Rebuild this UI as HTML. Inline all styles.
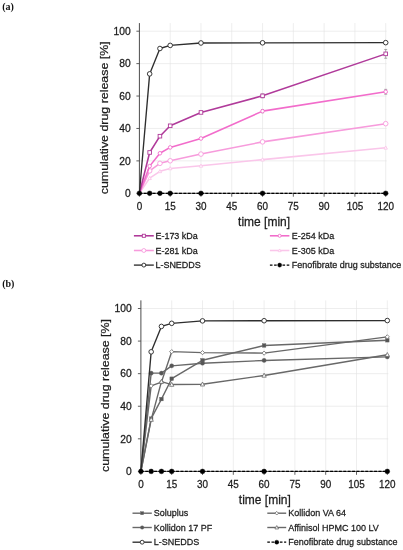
<!DOCTYPE html>
<html lang="en"><head><meta charset="utf-8"><title>Cumulative drug release</title>
<style>
html,body{margin:0;padding:0;background:#fff;}
svg{display:block;}
text{font-family:"Liberation Sans",Arial,sans-serif;fill:#1c1c1c;stroke:#1c1c1c;stroke-width:0.25px;}
.tk{font-size:9.9px;}
.ty{font-size:10.3px;}
.al{font-size:12px;}
.lg{font-size:9px;}
.yl{font-size:11.6px;}
.pl{font-family:"Liberation Serif","Times New Roman",serif;font-weight:bold;font-size:10px;fill:#111;stroke:none;}
</style></head><body>
<svg width="403" height="550" viewBox="0 0 403 550">
<rect width="403" height="550" fill="#fff"/>
<text x="2.2" y="10.2" class="pl">(a)</text>
<text x="2.2" y="286.8" class="pl">(b)</text>
<g id="chart-a">
<line x1="170.19" y1="23.09" x2="170.19" y2="193.3" stroke="#e2e2e2" stroke-width="0.6"/>
<line x1="200.97" y1="23.09" x2="200.97" y2="193.3" stroke="#e2e2e2" stroke-width="0.6"/>
<line x1="231.76" y1="23.09" x2="231.76" y2="193.3" stroke="#e2e2e2" stroke-width="0.6"/>
<line x1="262.55" y1="23.09" x2="262.55" y2="193.3" stroke="#e2e2e2" stroke-width="0.6"/>
<line x1="293.34" y1="23.09" x2="293.34" y2="193.3" stroke="#e2e2e2" stroke-width="0.6"/>
<line x1="324.12" y1="23.09" x2="324.12" y2="193.3" stroke="#e2e2e2" stroke-width="0.6"/>
<line x1="354.91" y1="23.09" x2="354.91" y2="193.3" stroke="#e2e2e2" stroke-width="0.6"/>
<line x1="385.7" y1="23.09" x2="385.7" y2="193.3" stroke="#e2e2e2" stroke-width="0.6"/>
<line x1="139.4" y1="160.88" x2="386.7" y2="160.88" stroke="#e2e2e2" stroke-width="0.6"/>
<line x1="139.4" y1="128.46" x2="386.7" y2="128.46" stroke="#e2e2e2" stroke-width="0.6"/>
<line x1="139.4" y1="96.04" x2="386.7" y2="96.04" stroke="#e2e2e2" stroke-width="0.6"/>
<line x1="139.4" y1="63.62" x2="386.7" y2="63.62" stroke="#e2e2e2" stroke-width="0.6"/>
<line x1="139.4" y1="31.2" x2="386.7" y2="31.2" stroke="#e2e2e2" stroke-width="0.6"/>
<line x1="139.4" y1="23.09" x2="139.4" y2="193.3" stroke="#4d4d4d" stroke-width="1"/>
<line x1="139.4" y1="193.3" x2="385.7" y2="193.3" stroke="#4d4d4d" stroke-width="1"/>
<line x1="139.4" y1="193.3" x2="139.4" y2="196.7" stroke="#4d4d4d" stroke-width="0.9"/>
<text transform="translate(139.4,209.6) scale(1,1.066)" text-anchor="middle" class="tk">0</text>
<line x1="170.19" y1="193.3" x2="170.19" y2="196.7" stroke="#4d4d4d" stroke-width="0.9"/>
<text transform="translate(170.19,209.6) scale(1,1.066)" text-anchor="middle" class="tk">15</text>
<line x1="200.97" y1="193.3" x2="200.97" y2="196.7" stroke="#4d4d4d" stroke-width="0.9"/>
<text transform="translate(200.97,209.6) scale(1,1.066)" text-anchor="middle" class="tk">30</text>
<line x1="231.76" y1="193.3" x2="231.76" y2="196.7" stroke="#4d4d4d" stroke-width="0.9"/>
<text transform="translate(231.76,209.6) scale(1,1.066)" text-anchor="middle" class="tk">45</text>
<line x1="262.55" y1="193.3" x2="262.55" y2="196.7" stroke="#4d4d4d" stroke-width="0.9"/>
<text transform="translate(262.55,209.6) scale(1,1.066)" text-anchor="middle" class="tk">60</text>
<line x1="293.34" y1="193.3" x2="293.34" y2="196.7" stroke="#4d4d4d" stroke-width="0.9"/>
<text transform="translate(293.34,209.6) scale(1,1.066)" text-anchor="middle" class="tk">75</text>
<line x1="324.12" y1="193.3" x2="324.12" y2="196.7" stroke="#4d4d4d" stroke-width="0.9"/>
<text transform="translate(324.12,209.6) scale(1,1.066)" text-anchor="middle" class="tk">90</text>
<line x1="354.91" y1="193.3" x2="354.91" y2="196.7" stroke="#4d4d4d" stroke-width="0.9"/>
<text transform="translate(354.91,209.6) scale(1,1.066)" text-anchor="middle" class="tk">105</text>
<line x1="385.7" y1="193.3" x2="385.7" y2="196.7" stroke="#4d4d4d" stroke-width="0.9"/>
<text transform="translate(385.7,209.6) scale(1,1.066)" text-anchor="middle" class="tk">120</text>
<line x1="136.4" y1="193.3" x2="139.4" y2="193.3" stroke="#4d4d4d" stroke-width="0.9"/>
<text transform="translate(130.7,197.1) scale(1,1.03)" text-anchor="end" class="tk ty">0</text>
<line x1="136.4" y1="160.88" x2="139.4" y2="160.88" stroke="#4d4d4d" stroke-width="0.9"/>
<text transform="translate(130.7,164.68) scale(1,1.03)" text-anchor="end" class="tk ty">20</text>
<line x1="136.4" y1="128.46" x2="139.4" y2="128.46" stroke="#4d4d4d" stroke-width="0.9"/>
<text transform="translate(130.7,132.26) scale(1,1.03)" text-anchor="end" class="tk ty">40</text>
<line x1="136.4" y1="96.04" x2="139.4" y2="96.04" stroke="#4d4d4d" stroke-width="0.9"/>
<text transform="translate(130.7,99.84) scale(1,1.03)" text-anchor="end" class="tk ty">60</text>
<line x1="136.4" y1="63.62" x2="139.4" y2="63.62" stroke="#4d4d4d" stroke-width="0.9"/>
<text transform="translate(130.7,67.42) scale(1,1.03)" text-anchor="end" class="tk ty">80</text>
<line x1="136.4" y1="31.2" x2="139.4" y2="31.2" stroke="#4d4d4d" stroke-width="0.9"/>
<text transform="translate(130.7,35) scale(1,1.03)" text-anchor="end" class="tk ty">100</text>
<text transform="translate(264.05,226.3) scale(1,1.035)" text-anchor="middle" class="al">time [min]</text>
<text transform="translate(107.9,117.8) scale(1,1.07) rotate(-90)" text-anchor="middle" class="al yl">cumulative drug release [%]</text>
<polyline points="139.4,193.3 149.66,178.18 159.93,171.34 170.19,168.4 200.97,165.81 262.55,159.62 385.7,147.75" fill="none" stroke="#fac6ea" stroke-width="1.55" stroke-linejoin="round"/>
<path d="M149.66 176.39L151.36 179.54H147.96Z" fill="#fff" stroke="#fac6ea" stroke-width="0.9" stroke-linejoin="round"/>
<path d="M159.93 169.55L161.62 172.7H158.23Z" fill="#fff" stroke="#fac6ea" stroke-width="0.9" stroke-linejoin="round"/>
<path d="M170.19 166.62L171.89 169.76H168.49Z" fill="#fff" stroke="#fac6ea" stroke-width="0.9" stroke-linejoin="round"/>
<path d="M200.97 164.02L202.67 167.17H199.28Z" fill="#fff" stroke="#fac6ea" stroke-width="0.9" stroke-linejoin="round"/>
<path d="M262.55 157.83L264.25 160.98H260.85Z" fill="#fff" stroke="#fac6ea" stroke-width="0.9" stroke-linejoin="round"/>
<path d="M385.7 145.96L387.4 149.11H384Z" fill="#fff" stroke="#fac6ea" stroke-width="0.9" stroke-linejoin="round"/>
<polyline points="139.4,193.3 149.66,170.85 159.93,163.36 170.19,160.77 200.97,154.09 262.55,141.88 385.7,123.66" fill="none" stroke="#f79bdc" stroke-width="1.55" stroke-linejoin="round"/>
<circle cx="149.66" cy="170.85" r="2.3" fill="#fff" stroke="#f79bdc" stroke-width="0.9"/>
<circle cx="159.93" cy="163.36" r="2.3" fill="#fff" stroke="#f79bdc" stroke-width="0.9"/>
<circle cx="170.19" cy="160.77" r="2.3" fill="#fff" stroke="#f79bdc" stroke-width="0.9"/>
<circle cx="200.97" cy="154.09" r="2.3" fill="#fff" stroke="#f79bdc" stroke-width="0.9"/>
<circle cx="262.55" cy="141.88" r="2.3" fill="#fff" stroke="#f79bdc" stroke-width="0.9"/>
<circle cx="385.7" cy="123.66" r="2.3" fill="#fff" stroke="#f79bdc" stroke-width="0.9"/>
<polyline points="139.4,193.3 149.66,166.13 159.93,153.28 170.19,147.43 200.97,138.48 262.55,111.13 385.7,91.78" fill="none" stroke="#f26ccb" stroke-width="1.55" stroke-linejoin="round"/>
<circle cx="149.66" cy="166.13" r="1.8" fill="#fff" stroke="#f26ccb" stroke-width="0.9"/>
<circle cx="159.93" cy="153.28" r="1.8" fill="#fff" stroke="#f26ccb" stroke-width="0.9"/>
<circle cx="170.19" cy="147.43" r="1.8" fill="#fff" stroke="#f26ccb" stroke-width="0.9"/>
<circle cx="200.97" cy="138.48" r="1.8" fill="#fff" stroke="#f26ccb" stroke-width="0.9"/>
<path d="M262.55 109.51V112.75M261.05 109.51h3M261.05 112.75h3" stroke="#8a8a8a" stroke-width="0.7" fill="none"/>
<circle cx="262.55" cy="111.13" r="1.8" fill="#fff" stroke="#f26ccb" stroke-width="0.9"/>
<path d="M385.7 89.35V94.21M384.2 89.35h3M384.2 94.21h3" stroke="#8a8a8a" stroke-width="0.7" fill="none"/>
<circle cx="385.7" cy="91.78" r="1.8" fill="#fff" stroke="#f26ccb" stroke-width="0.9"/>
<polyline points="139.4,193.3 149.66,152.47 159.93,136.19 170.19,125.79 200.97,112.44 262.55,95.85 385.7,53.86" fill="none" stroke="#b03a9a" stroke-width="1.55" stroke-linejoin="round"/>
<rect x="147.86" y="150.67" width="3.6" height="3.6" fill="#fff" stroke="#b03a9a" stroke-width="0.9"/>
<rect x="158.12" y="134.39" width="3.6" height="3.6" fill="#fff" stroke="#b03a9a" stroke-width="0.9"/>
<rect x="168.39" y="123.99" width="3.6" height="3.6" fill="#fff" stroke="#b03a9a" stroke-width="0.9"/>
<rect x="199.17" y="110.64" width="3.6" height="3.6" fill="#fff" stroke="#b03a9a" stroke-width="0.9"/>
<path d="M262.55 93.9V97.79M261.05 93.9h3M261.05 97.79h3" stroke="#8a8a8a" stroke-width="0.7" fill="none"/>
<rect x="260.75" y="94.05" width="3.6" height="3.6" fill="#fff" stroke="#b03a9a" stroke-width="0.9"/>
<path d="M385.7 49.48V58.24M384.2 49.48h3M384.2 58.24h3" stroke="#8a8a8a" stroke-width="0.7" fill="none"/>
<rect x="383.9" y="52.06" width="3.6" height="3.6" fill="#fff" stroke="#b03a9a" stroke-width="0.9"/>
<polyline points="139.4,193.3 149.66,73.88 159.93,48.5 170.19,45.4 200.97,42.97 262.55,42.81 385.7,42.64" fill="none" stroke="#2e2e2e" stroke-width="1.35" stroke-linejoin="round"/>
<circle cx="149.66" cy="73.88" r="2.3" fill="#fff" stroke="#2e2e2e" stroke-width="0.95"/>
<circle cx="159.93" cy="48.5" r="2.3" fill="#fff" stroke="#2e2e2e" stroke-width="0.95"/>
<circle cx="170.19" cy="45.4" r="2.3" fill="#fff" stroke="#2e2e2e" stroke-width="0.95"/>
<circle cx="200.97" cy="42.97" r="2.3" fill="#fff" stroke="#2e2e2e" stroke-width="0.95"/>
<circle cx="262.55" cy="42.81" r="2.3" fill="#fff" stroke="#2e2e2e" stroke-width="0.95"/>
<circle cx="385.7" cy="42.64" r="2.3" fill="#fff" stroke="#2e2e2e" stroke-width="0.95"/>
<polyline points="139.4,193.3 149.66,193.3 159.93,193.3 170.19,193.3 200.97,193.3 262.55,193.3 385.7,193.3" fill="none" stroke="#000" stroke-width="1.2" stroke-dasharray="2.9 1.5" stroke-linejoin="round"/>
<circle cx="139.4" cy="193.3" r="2.4" fill="#000" stroke="#000" stroke-width="0.4"/>
<circle cx="149.66" cy="193.3" r="2.4" fill="#000" stroke="#000" stroke-width="0.4"/>
<circle cx="159.93" cy="193.3" r="2.4" fill="#000" stroke="#000" stroke-width="0.4"/>
<circle cx="170.19" cy="193.3" r="2.4" fill="#000" stroke="#000" stroke-width="0.4"/>
<circle cx="200.97" cy="193.3" r="2.4" fill="#000" stroke="#000" stroke-width="0.4"/>
<circle cx="262.55" cy="193.3" r="2.4" fill="#000" stroke="#000" stroke-width="0.4"/>
<circle cx="385.7" cy="193.3" r="2.4" fill="#000" stroke="#000" stroke-width="0.4"/>
<line x1="133.9" y1="235.8" x2="153.8" y2="235.8" stroke="#b03a9a" stroke-width="1.55"/>
<rect x="142.32" y="234.27" width="3.06" height="3.06" fill="#fff" stroke="#b03a9a" stroke-width="0.9"/>
<text transform="translate(155.4,239) scale(1,1.035)" text-anchor="start" class="lg">E-173 kDa</text>
<line x1="133.9" y1="250.5" x2="153.8" y2="250.5" stroke="#f79bdc" stroke-width="1.55"/>
<circle cx="143.85" cy="250.5" r="1.95" fill="#fff" stroke="#f79bdc" stroke-width="0.9"/>
<text transform="translate(155.4,253.7) scale(1,1.035)" text-anchor="start" class="lg">E-281 kDa</text>
<line x1="133.9" y1="265.1" x2="153.8" y2="265.1" stroke="#2e2e2e" stroke-width="1.35"/>
<circle cx="143.85" cy="265.1" r="1.95" fill="#fff" stroke="#2e2e2e" stroke-width="0.95"/>
<text transform="translate(155.4,268.3) scale(1,1.035)" text-anchor="start" class="lg">L-SNEDDS</text>
<line x1="269.9" y1="235.8" x2="289.4" y2="235.8" stroke="#f26ccb" stroke-width="1.55"/>
<circle cx="279.65" cy="235.8" r="1.53" fill="#fff" stroke="#f26ccb" stroke-width="0.9"/>
<text transform="translate(291.8,239) scale(1,1.035)" text-anchor="start" class="lg">E-254 kDa</text>
<line x1="269.9" y1="250.5" x2="289.4" y2="250.5" stroke="#fac6ea" stroke-width="1.55"/>
<path d="M279.65 248.98L281.09 251.66H278.2Z" fill="#fff" stroke="#fac6ea" stroke-width="0.9" stroke-linejoin="round"/>
<text transform="translate(291.8,253.7) scale(1,1.035)" text-anchor="start" class="lg">E-305 kDa</text>
<line x1="269.9" y1="265.1" x2="289.4" y2="265.1" stroke="#000" stroke-width="1.2" stroke-dasharray="2.6 1.6"/>
<circle cx="279.65" cy="265.1" r="2.04" fill="#000" stroke="#000" stroke-width="0.4"/>
<text transform="translate(291.8,268.3) scale(1,1.035)" text-anchor="start" class="lg">Fenofibrate drug substance</text>
</g>
<g id="chart-b">
<line x1="171.7" y1="300.36" x2="171.7" y2="471.4" stroke="#e2e2e2" stroke-width="0.6"/>
<line x1="202.5" y1="300.36" x2="202.5" y2="471.4" stroke="#e2e2e2" stroke-width="0.6"/>
<line x1="233.3" y1="300.36" x2="233.3" y2="471.4" stroke="#e2e2e2" stroke-width="0.6"/>
<line x1="264.1" y1="300.36" x2="264.1" y2="471.4" stroke="#e2e2e2" stroke-width="0.6"/>
<line x1="294.9" y1="300.36" x2="294.9" y2="471.4" stroke="#e2e2e2" stroke-width="0.6"/>
<line x1="325.7" y1="300.36" x2="325.7" y2="471.4" stroke="#e2e2e2" stroke-width="0.6"/>
<line x1="356.5" y1="300.36" x2="356.5" y2="471.4" stroke="#e2e2e2" stroke-width="0.6"/>
<line x1="387.3" y1="300.36" x2="387.3" y2="471.4" stroke="#e2e2e2" stroke-width="0.6"/>
<line x1="140.9" y1="438.82" x2="388.3" y2="438.82" stroke="#e2e2e2" stroke-width="0.6"/>
<line x1="140.9" y1="406.24" x2="388.3" y2="406.24" stroke="#e2e2e2" stroke-width="0.6"/>
<line x1="140.9" y1="373.66" x2="388.3" y2="373.66" stroke="#e2e2e2" stroke-width="0.6"/>
<line x1="140.9" y1="341.08" x2="388.3" y2="341.08" stroke="#e2e2e2" stroke-width="0.6"/>
<line x1="140.9" y1="308.5" x2="388.3" y2="308.5" stroke="#e2e2e2" stroke-width="0.6"/>
<line x1="140.9" y1="300.36" x2="140.9" y2="471.4" stroke="#4d4d4d" stroke-width="1"/>
<line x1="140.9" y1="471.4" x2="387.3" y2="471.4" stroke="#4d4d4d" stroke-width="1"/>
<line x1="140.9" y1="471.4" x2="140.9" y2="474.8" stroke="#4d4d4d" stroke-width="0.9"/>
<text transform="translate(140.9,487.7) scale(1,1.066)" text-anchor="middle" class="tk">0</text>
<line x1="171.7" y1="471.4" x2="171.7" y2="474.8" stroke="#4d4d4d" stroke-width="0.9"/>
<text transform="translate(171.7,487.7) scale(1,1.066)" text-anchor="middle" class="tk">15</text>
<line x1="202.5" y1="471.4" x2="202.5" y2="474.8" stroke="#4d4d4d" stroke-width="0.9"/>
<text transform="translate(202.5,487.7) scale(1,1.066)" text-anchor="middle" class="tk">30</text>
<line x1="233.3" y1="471.4" x2="233.3" y2="474.8" stroke="#4d4d4d" stroke-width="0.9"/>
<text transform="translate(233.3,487.7) scale(1,1.066)" text-anchor="middle" class="tk">45</text>
<line x1="264.1" y1="471.4" x2="264.1" y2="474.8" stroke="#4d4d4d" stroke-width="0.9"/>
<text transform="translate(264.1,487.7) scale(1,1.066)" text-anchor="middle" class="tk">60</text>
<line x1="294.9" y1="471.4" x2="294.9" y2="474.8" stroke="#4d4d4d" stroke-width="0.9"/>
<text transform="translate(294.9,487.7) scale(1,1.066)" text-anchor="middle" class="tk">75</text>
<line x1="325.7" y1="471.4" x2="325.7" y2="474.8" stroke="#4d4d4d" stroke-width="0.9"/>
<text transform="translate(325.7,487.7) scale(1,1.066)" text-anchor="middle" class="tk">90</text>
<line x1="356.5" y1="471.4" x2="356.5" y2="474.8" stroke="#4d4d4d" stroke-width="0.9"/>
<text transform="translate(356.5,487.7) scale(1,1.066)" text-anchor="middle" class="tk">105</text>
<line x1="387.3" y1="471.4" x2="387.3" y2="474.8" stroke="#4d4d4d" stroke-width="0.9"/>
<text transform="translate(387.3,487.7) scale(1,1.066)" text-anchor="middle" class="tk">120</text>
<line x1="137.9" y1="471.4" x2="140.9" y2="471.4" stroke="#4d4d4d" stroke-width="0.9"/>
<text transform="translate(131.7,475.2) scale(1,1.03)" text-anchor="end" class="tk ty">0</text>
<line x1="137.9" y1="438.82" x2="140.9" y2="438.82" stroke="#4d4d4d" stroke-width="0.9"/>
<text transform="translate(131.7,442.62) scale(1,1.03)" text-anchor="end" class="tk ty">20</text>
<line x1="137.9" y1="406.24" x2="140.9" y2="406.24" stroke="#4d4d4d" stroke-width="0.9"/>
<text transform="translate(131.7,410.04) scale(1,1.03)" text-anchor="end" class="tk ty">40</text>
<line x1="137.9" y1="373.66" x2="140.9" y2="373.66" stroke="#4d4d4d" stroke-width="0.9"/>
<text transform="translate(131.7,377.46) scale(1,1.03)" text-anchor="end" class="tk ty">60</text>
<line x1="137.9" y1="341.08" x2="140.9" y2="341.08" stroke="#4d4d4d" stroke-width="0.9"/>
<text transform="translate(131.7,344.88) scale(1,1.03)" text-anchor="end" class="tk ty">80</text>
<line x1="137.9" y1="308.5" x2="140.9" y2="308.5" stroke="#4d4d4d" stroke-width="0.9"/>
<text transform="translate(131.7,312.3) scale(1,1.03)" text-anchor="end" class="tk ty">100</text>
<text transform="translate(264.8,504.4) scale(1,1.035)" text-anchor="middle" class="al">time [min]</text>
<text transform="translate(109.2,395.48) scale(1,1.07) rotate(-90)" text-anchor="middle" class="al yl">cumulative drug release [%]</text>
<polyline points="140.9,471.4 151.17,418.62 161.43,399.07 171.7,378.71 202.5,360.3 264.1,345.48 387.3,340.27" fill="none" stroke="#686868" stroke-width="1.4" stroke-linejoin="round"/>
<rect x="149.37" y="416.82" width="3.6" height="3.6" fill="#565656" stroke="#686868" stroke-width="0.4"/>
<rect x="159.63" y="397.27" width="3.6" height="3.6" fill="#565656" stroke="#686868" stroke-width="0.4"/>
<rect x="169.9" y="376.91" width="3.6" height="3.6" fill="#565656" stroke="#686868" stroke-width="0.4"/>
<rect x="200.7" y="358.5" width="3.6" height="3.6" fill="#565656" stroke="#686868" stroke-width="0.4"/>
<rect x="262.3" y="343.68" width="3.6" height="3.6" fill="#565656" stroke="#686868" stroke-width="0.4"/>
<rect x="385.5" y="338.47" width="3.6" height="3.6" fill="#565656" stroke="#686868" stroke-width="0.4"/>
<polyline points="140.9,471.4 151.17,373.17 161.43,373.17 171.7,365.84 202.5,363.23 264.1,360.47 387.3,356.88" fill="none" stroke="#686868" stroke-width="1.4" stroke-linejoin="round"/>
<circle cx="151.17" cy="373.17" r="2.1" fill="#565656" stroke="#686868" stroke-width="0.4"/>
<circle cx="161.43" cy="373.17" r="2.1" fill="#565656" stroke="#686868" stroke-width="0.4"/>
<circle cx="171.7" cy="365.84" r="2.1" fill="#565656" stroke="#686868" stroke-width="0.4"/>
<circle cx="202.5" cy="363.23" r="2.1" fill="#565656" stroke="#686868" stroke-width="0.4"/>
<circle cx="264.1" cy="360.47" r="2.1" fill="#565656" stroke="#686868" stroke-width="0.4"/>
<circle cx="387.3" cy="356.88" r="2.1" fill="#565656" stroke="#686868" stroke-width="0.4"/>
<polyline points="140.9,471.4 151.17,385.88 161.43,382.13 171.7,351.67 202.5,352.65 264.1,353.13 387.3,336.84" fill="none" stroke="#686868" stroke-width="1.4" stroke-linejoin="round"/>
<path d="M151.17 383.78L153.27 385.88L151.17 387.98L149.07 385.88Z" fill="#fff" stroke="#686868" stroke-width="0.8"/>
<path d="M161.43 380.03L163.53 382.13L161.43 384.23L159.33 382.13Z" fill="#fff" stroke="#686868" stroke-width="0.8"/>
<path d="M171.7 349.57L173.8 351.67L171.7 353.77L169.6 351.67Z" fill="#fff" stroke="#686868" stroke-width="0.8"/>
<path d="M202.5 350.55L204.6 352.65L202.5 354.75L200.4 352.65Z" fill="#fff" stroke="#686868" stroke-width="0.8"/>
<path d="M264.1 351.03L266.2 353.13L264.1 355.23L262 353.13Z" fill="#fff" stroke="#686868" stroke-width="0.8"/>
<path d="M387.3 334.74L389.4 336.84L387.3 338.94L385.2 336.84Z" fill="#fff" stroke="#686868" stroke-width="0.8"/>
<polyline points="140.9,471.4 151.17,419.6 161.43,381.64 171.7,384.57 202.5,384.25 264.1,375.45 387.3,354.76" fill="none" stroke="#686868" stroke-width="1.4" stroke-linejoin="round"/>
<path d="M151.17 417.34L153.32 421.32H149.02Z" fill="#fff" stroke="#686868" stroke-width="0.8" stroke-linejoin="round"/>
<path d="M161.43 379.38L163.58 383.36H159.28Z" fill="#fff" stroke="#686868" stroke-width="0.8" stroke-linejoin="round"/>
<path d="M171.7 382.32L173.85 386.29H169.55Z" fill="#fff" stroke="#686868" stroke-width="0.8" stroke-linejoin="round"/>
<path d="M202.5 381.99L204.65 385.97H200.35Z" fill="#fff" stroke="#686868" stroke-width="0.8" stroke-linejoin="round"/>
<path d="M264.1 373.19L266.25 377.17H261.95Z" fill="#fff" stroke="#686868" stroke-width="0.8" stroke-linejoin="round"/>
<path d="M387.3 352.51L389.45 356.48H385.15Z" fill="#fff" stroke="#686868" stroke-width="0.8" stroke-linejoin="round"/>
<polyline points="140.9,471.4 151.17,351.83 161.43,326.42 171.7,323.32 202.5,320.88 264.1,320.72 387.3,320.55" fill="none" stroke="#2e2e2e" stroke-width="1.35" stroke-linejoin="round"/>
<circle cx="151.17" cy="351.83" r="2.3" fill="#fff" stroke="#2e2e2e" stroke-width="0.95"/>
<circle cx="161.43" cy="326.42" r="2.3" fill="#fff" stroke="#2e2e2e" stroke-width="0.95"/>
<circle cx="171.7" cy="323.32" r="2.3" fill="#fff" stroke="#2e2e2e" stroke-width="0.95"/>
<circle cx="202.5" cy="320.88" r="2.3" fill="#fff" stroke="#2e2e2e" stroke-width="0.95"/>
<circle cx="264.1" cy="320.72" r="2.3" fill="#fff" stroke="#2e2e2e" stroke-width="0.95"/>
<circle cx="387.3" cy="320.55" r="2.3" fill="#fff" stroke="#2e2e2e" stroke-width="0.95"/>
<polyline points="140.9,471.4 151.17,471.4 161.43,471.4 171.7,471.4 202.5,471.4 264.1,471.4 387.3,471.4" fill="none" stroke="#000" stroke-width="1.2" stroke-dasharray="2.9 1.5" stroke-linejoin="round"/>
<circle cx="140.9" cy="471.4" r="2.4" fill="#000" stroke="#000" stroke-width="0.4"/>
<circle cx="151.17" cy="471.4" r="2.4" fill="#000" stroke="#000" stroke-width="0.4"/>
<circle cx="161.43" cy="471.4" r="2.4" fill="#000" stroke="#000" stroke-width="0.4"/>
<circle cx="171.7" cy="471.4" r="2.4" fill="#000" stroke="#000" stroke-width="0.4"/>
<circle cx="202.5" cy="471.4" r="2.4" fill="#000" stroke="#000" stroke-width="0.4"/>
<circle cx="264.1" cy="471.4" r="2.4" fill="#000" stroke="#000" stroke-width="0.4"/>
<circle cx="387.3" cy="471.4" r="2.4" fill="#000" stroke="#000" stroke-width="0.4"/>
<line x1="132.5" y1="513.2" x2="151.8" y2="513.2" stroke="#686868" stroke-width="1.4"/>
<rect x="140.62" y="511.67" width="3.06" height="3.06" fill="#565656" stroke="#686868" stroke-width="0.4"/>
<text transform="translate(153.7,516.4) scale(1,1.035)" text-anchor="start" class="lg">Soluplus</text>
<line x1="132.5" y1="527.5" x2="151.8" y2="527.5" stroke="#686868" stroke-width="1.4"/>
<circle cx="142.15" cy="527.5" r="1.78" fill="#565656" stroke="#686868" stroke-width="0.4"/>
<text transform="translate(153.7,530.7) scale(1,1.035)" text-anchor="start" class="lg">Kollidon 17 PF</text>
<line x1="132.5" y1="542.2" x2="151.8" y2="542.2" stroke="#2e2e2e" stroke-width="1.35"/>
<circle cx="142.15" cy="542.2" r="1.95" fill="#fff" stroke="#2e2e2e" stroke-width="0.95"/>
<text transform="translate(153.7,545.4) scale(1,1.035)" text-anchor="start" class="lg">L-SNEDDS</text>
<line x1="267.3" y1="513.2" x2="286.2" y2="513.2" stroke="#686868" stroke-width="1.4"/>
<path d="M276.75 511.42L278.54 513.2L276.75 514.99L274.96 513.2Z" fill="#fff" stroke="#686868" stroke-width="0.8"/>
<text transform="translate(288.2,516.4) scale(1,1.035)" text-anchor="start" class="lg">Kollidon VA 64</text>
<line x1="267.3" y1="527.5" x2="286.2" y2="527.5" stroke="#686868" stroke-width="1.4"/>
<path d="M276.75 525.58L278.58 528.96H274.92Z" fill="#fff" stroke="#686868" stroke-width="0.8" stroke-linejoin="round"/>
<text transform="translate(288.2,530.7) scale(1,1.035)" text-anchor="start" class="lg">Affinisol HPMC 100 LV</text>
<line x1="267.3" y1="542.2" x2="286.2" y2="542.2" stroke="#000" stroke-width="1.2" stroke-dasharray="2.6 1.6"/>
<circle cx="276.75" cy="542.2" r="2.04" fill="#000" stroke="#000" stroke-width="0.4"/>
<text transform="translate(288.2,545.4) scale(1,1.035)" text-anchor="start" class="lg">Fenofibrate drug substance</text>
</g>
</svg>
</body></html>
